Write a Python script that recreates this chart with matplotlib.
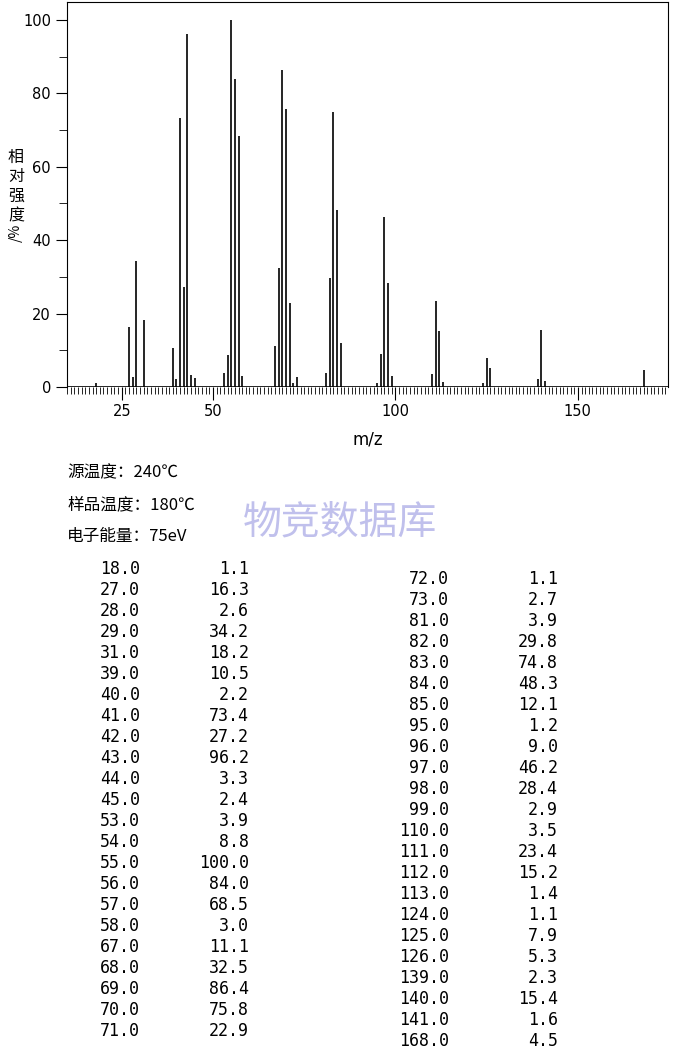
import matplotlib
matplotlib.use('Agg')
import matplotlib.pyplot as plt
from matplotlib.ticker import MultipleLocator

mz = [18, 27, 28, 29, 31, 39, 40, 41, 42, 43, 44, 45, 53, 54, 55, 56, 57, 58, 67, 68, 69, 70, 71,
      72, 73, 81, 82, 83, 84, 85, 95, 96, 97, 98, 99, 110, 111, 112, 113, 124, 125, 126, 139, 140, 141, 168]
inten = [1.1, 16.3, 2.6, 34.2, 18.2, 10.5, 2.2, 73.4, 27.2, 96.2, 3.3, 2.4, 3.9, 8.8, 100.0, 84.0, 68.5, 3.0,
         11.1, 32.5, 86.4, 75.8, 22.9,
         1.1, 2.7, 3.9, 29.8, 74.8, 48.3, 12.1, 1.2, 9.0, 46.2, 28.4, 2.9, 3.5, 23.4, 15.2, 1.4, 1.1, 7.9,
         5.3, 2.3, 15.4, 1.6, 4.5]
info = ['源温度：240℃', '样品温度：180℃', '电子能量：75eV']

W, H = 680, 1049
fig = plt.figure(figsize=(W / 100, H / 100), dpi=100)
ax = fig.add_axes([67 / W, 1 - 387 / H, (668 - 67) / W, (387 - 2) / H])
ax.vlines(mz, 0, inten, color='black', lw=1.2)
ax.set_xlim(10.0, 174.7)
ax.set_ylim(0, 104.9)
ax.axhline(0, color='black', lw=1.2)
ax.spines['bottom'].set_visible(False)
ax.xaxis.set_minor_locator(MultipleLocator(1))
ax.set_xticks([25, 50, 100, 150])
ax.yaxis.set_major_locator(MultipleLocator(20))
ax.yaxis.set_minor_locator(MultipleLocator(10))
ax.tick_params(axis='x', which='major', length=9, direction='out', labelsize=10.5)
ax.tick_params(axis='x', which='minor', length=5, direction='out')
ax.tick_params(axis='y', which='major', length=8, labelsize=10.5)
ax.tick_params(axis='y', which='minor', length=6)
ax.set_xlabel('m/z', fontsize=12, labelpad=8)

cjk = ['Noto Sans CJK SC', 'DejaVu Sans Mono']
for i, ch in enumerate('相对强度'):
    fig.text(16 / W, 1 - (157 + 19.5 * i) / H, ch, ha='center', va='center', family=cjk, fontsize=11.5)
fig.text(16 / W, 1 - 233 / H, '/%', rotation=90, ha='center', va='center', family=cjk, fontsize=10)

for i, s in enumerate(info):
    fig.text(67 / W, 1 - (473 + 31.5 * i) / H, s, va='center', family=cjk, fontsize=12)
fig.text(340 / W, 1 - 523 / H, '物竞数据库', ha='center', va='center', family=cjk,
         fontsize=28, color='#c0c0ec')

mono = 'DejaVu Sans Mono'
half = 23
for i in range(len(mz)):
    if i < half:
        y, xm, xi = 569 + 21 * i, 140, 249
    else:
        y, xm, xi = 579 + 21 * (i - half), 449, 558
    fig.text(xm / W, 1 - y / H, f'{mz[i]:.1f}', ha='right', va='center', family=mono, fontsize=12)
    fig.text(xi / W, 1 - y / H, f'{inten[i]:.1f}', ha='right', va='center', family=mono, fontsize=12)

fig.savefig('out.png', dpi=100)
